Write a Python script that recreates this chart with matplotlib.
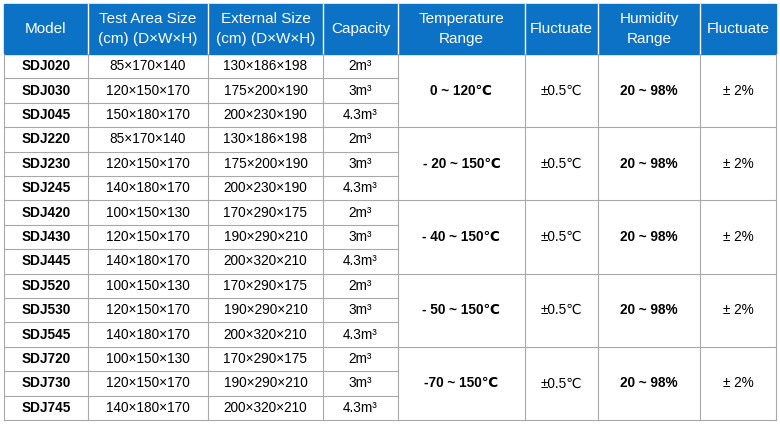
import matplotlib
matplotlib.use('Agg')
import matplotlib.pyplot as plt
from matplotlib.patches import Rectangle

plt.rcParams['font.family'] = ['Liberation Sans', 'DejaVu Sans']

headers = ["Model", "Test Area Size\n(cm) (D×W×H)", "External Size\n(cm) (D×W×H)", "Capacity",
           "Temperature\nRange", "Fluctuate", "Humidity\nRange", "Fluctuate"]
models = ["SDJ020", "SDJ030", "SDJ045", "SDJ220", "SDJ230", "SDJ245",
          "SDJ420", "SDJ430", "SDJ445", "SDJ520", "SDJ530", "SDJ545",
          "SDJ720", "SDJ730", "SDJ745"]
test_sizes = ["85×170×140", "120×150×170", "150×180×170",
              "85×170×140", "120×150×170", "140×180×170",
              "100×150×130", "120×150×170", "140×180×170",
              "100×150×130", "120×150×170", "140×180×170",
              "100×150×130", "120×150×170", "140×180×170"]
ext_sizes = ["130×186×198", "175×200×190", "200×230×190",
             "130×186×198", "175×200×190", "200×230×190",
             "170×290×175", "190×290×210", "200×320×210",
             "170×290×175", "190×290×210", "200×320×210",
             "170×290×175", "190×290×210", "200×320×210"]
capacity = ["2m³", "3m³", "4.3m³"] * 5
temp_range = ["0 ~ 120℃", "- 20 ~ 150℃", "- 40 ~ 150℃", "- 50 ~ 150℃", "-70 ~ 150℃"]
temp_fluct = ["±0.5℃"] * 5
hum_range = ["20 ~ 98%"] * 5
hum_fluct = ["± 2%"] * 5

col_x = [4, 88, 208, 323, 398, 525, 598, 700, 776]
top, head_h, row_h = 4, 50, 24.4
blue = '#0b72c5'
grid = '#a8a8a8'

fig = plt.figure(figsize=(7.8, 4.25), dpi=100)
ax = fig.add_axes([0, 0, 1, 1])
ax.set_xlim(0, 780)
ax.set_ylim(425, 0)
ax.axis('off')

# header
ax.add_patch(Rectangle((col_x[0], top), col_x[-1] - col_x[0], head_h, color=blue, zorder=1))
for i, h in enumerate(headers):
    cx = (col_x[i] + col_x[i + 1]) / 2
    ax.text(cx, top + head_h / 2, h, ha='center', va='center', color='white',
            fontsize=11, linespacing=1.55)
    if i > 0:
        ax.plot([col_x[i]] * 2, [top, top + head_h], color='white', lw=1, zorder=2)

y0 = top + head_h
n = len(models)
bottom = y0 + n * row_h

# per-row cells
for r in range(n):
    cy = y0 + (r + 0.5) * row_h
    for c, (txt, bold) in enumerate([(models[r], True), (test_sizes[r], False),
                                     (ext_sizes[r], False), (capacity[r], False)]):
        cx = (col_x[c] + col_x[c + 1]) / 2
        ax.text(cx, cy, txt, ha='center', va='center', fontsize=9.8,
                fontweight='bold' if bold else 'normal', color='black')
    if r > 0:
        xe = col_x[4] if r % 3 else col_x[-1]
        ax.plot([col_x[0], xe], [y0 + r * row_h] * 2, color=grid, lw=0.8)

# grouped cells
for g in range(5):
    cy = y0 + (g * 3 + 1.5) * row_h
    vals = [(temp_range[g], True), (temp_fluct[g], False), (hum_range[g], True), (hum_fluct[g], False)]
    for k, (txt, bold) in enumerate(vals):
        c = 4 + k
        cx = (col_x[c] + col_x[c + 1]) / 2
        ax.text(cx, cy, txt, ha='center', va='center', fontsize=9.8,
                fontweight='bold' if bold else 'normal', color='black')

for x in col_x:
    ax.plot([x, x], [y0, bottom], color=grid, lw=0.8)
ax.plot([col_x[0], col_x[-1]], [bottom, bottom], color=grid, lw=0.8)

fig.savefig('out.png', dpi=100)
